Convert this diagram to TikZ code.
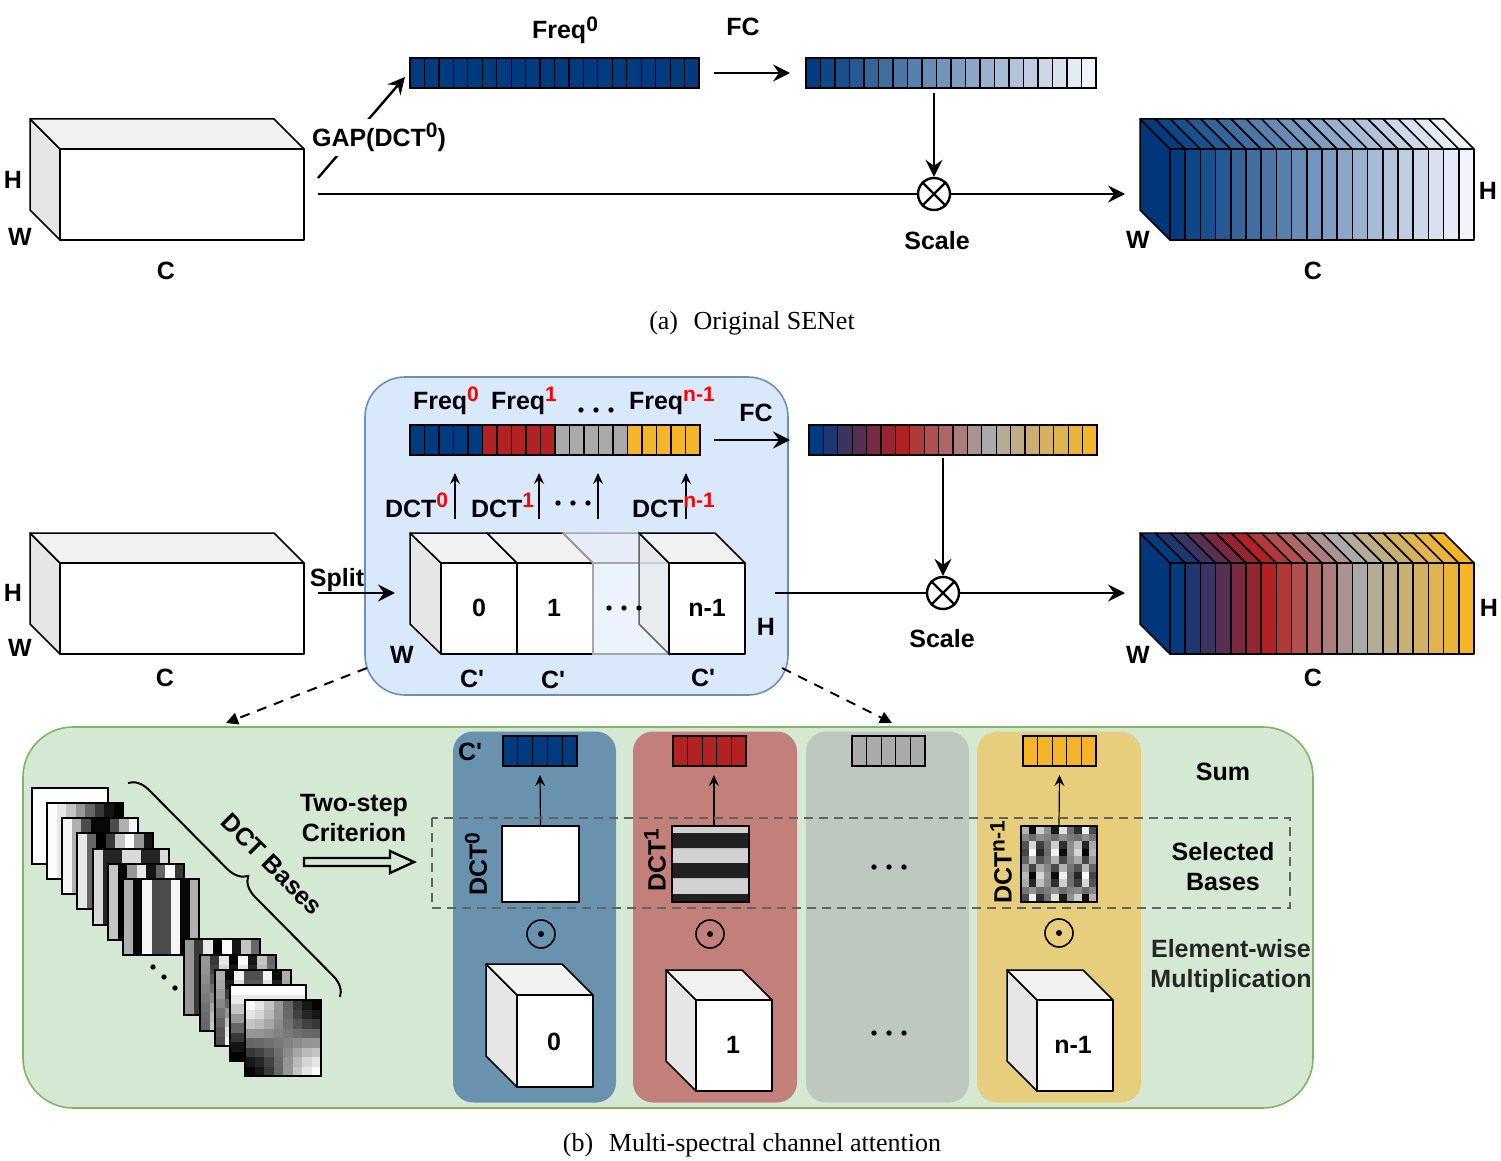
\documentclass[tikz,border=0pt]{standalone}
\usepackage{fontspec}
\setmainfont{Liberation Serif}
\newfontfamily\dsans{Liberation Sans}
\usetikzlibrary{arrows.meta,decorations.pathreplacing,calc}
\definecolor{dblue}{HTML}{003B80}
\definecolor{sideblue}{HTML}{00377A}
\definecolor{dred}{HTML}{B22222}
\definecolor{dgrey}{HTML}{AAAAAA}
\definecolor{dyell}{HTML}{F4B628}
\definecolor{lastA}{HTML}{F0F4FA}
\definecolor{topg}{HTML}{F2F2F2}
\definecolor{sideg}{HTML}{E6E6E6}
\definecolor{boxblue}{HTML}{DAE8FC}
\definecolor{boxblueline}{HTML}{6C8EBF}
\definecolor{boxgreen}{HTML}{D5E8D4}
\definecolor{boxgreenline}{HTML}{82B366}
\definecolor{colblue}{HTML}{6892AE}
\definecolor{colred}{HTML}{C3807A}
\definecolor{colgrey}{HTML}{BEC8BE}
\definecolor{colyell}{HTML}{E6CE7C}
\definecolor{dashgrey}{HTML}{5F665F}
\definecolor{gb0}{HTML}{003B80}
\definecolor{gb1}{HTML}{1E3770}
\definecolor{gb2}{HTML}{3B3361}
\definecolor{gb3}{HTML}{592F51}
\definecolor{gb4}{HTML}{772A41}
\definecolor{gb5}{HTML}{942632}
\definecolor{gb6}{HTML}{B22222}
\definecolor{gb7}{HTML}{B13939}
\definecolor{gb8}{HTML}{AF4F4F}
\definecolor{gb9}{HTML}{AE6666}
\definecolor{gb10}{HTML}{AD7D7D}
\definecolor{gb11}{HTML}{AB9393}
\definecolor{gb12}{HTML}{AAAAAA}
\definecolor{gb13}{HTML}{B5AC97}
\definecolor{gb14}{HTML}{BFAD85}
\definecolor{gb15}{HTML}{CAAF72}
\definecolor{gb16}{HTML}{D4B160}
\definecolor{gb17}{HTML}{DFB34D}
\definecolor{gb18}{HTML}{E9B43B}
\definecolor{gb19}{HTML}{F4B628}
\newcommand\mysp[2][3.6pt]{\raisebox{#1}{\fontsize{10.5}{10}\selectfont #2}}
\newcommand\rsp[2][3.6pt]{\mysp[#1]{\color{red}#2}}
\newcommand\mycube[5]{% x y w h d
  \filldraw[cubeln,fill=sideg] ({#1-#5},{#2-#5}) -- (#1,#2) -- (#1,{#2+#4}) -- ({#1-#5},{#2+#4-#5}) -- cycle;
  \filldraw[cubeln,fill=topg] ({#1-#5},{#2-#5}) -- ({#1+#3-#5},{#2-#5}) -- ({#1+#3},#2) -- (#1,#2) -- cycle;
  \filldraw[cubeln,fill=white] (#1,#2) rectangle ({#1+#3},{#2+#4});
}
\newcommand\dctsq[6]{% x y u v N size
  \pgfmathsetmacro\dcs{#6/#5}%
  \pgfmathtruncatemacro\dnm{#5-1}%
  \foreach \ci in {0,...,\dnm}{\foreach \cj in {0,...,\dnm}{%
    \pgfmathtruncatemacro\dgp{max(0,min(100,50+50*cos((2*\ci+1)*#3*90/#5)*cos((2*\cj+1)*#4*90/#5)))}%
    \fill[white!\dgp!black] ({#1+\ci*\dcs},{#2+\cj*\dcs}) rectangle ({#1+(\ci+1)*\dcs+0.4},{#2+(\cj+1)*\dcs+0.4});
  }}%
  \draw[line width=0.8pt] (#1,#2) rectangle ({#1+#6},{#2+#6});
}
\newcommand\tdots[3]{\fill (#1,#2) circle[radius=2.7] ({#1+#3},#2) circle[radius=2.7] ({#1+2*#3},#2) circle[radius=2.7];}
\begin{document}
\begin{tikzpicture}[x=0.5pt,y=-0.5pt,
  lbl/.style={font=\dsans\bfseries\fontsize{12.5}{15}\selectfont, inner sep=0pt, outer sep=0pt},
  captxt/.style={font=\fontsize{13}{15}\selectfont, inner sep=0pt},
  cubeln/.style={draw=black, line width=0.75pt, line join=round},
  cellln/.style={draw=black, line width=0.6pt},
  arr/.style={line width=1.2pt, -{Stealth[length=8.5pt,width=8.5pt,inset=3pt]}},
  sarr/.style={line width=0.6pt, -{Stealth[length=5.5pt,width=5pt,inset=2pt]}},
  darr/.style={line width=1pt, dash pattern=on 5pt off 4pt, -{Triangle[length=6pt,width=6pt]}},
  mainln/.style={line width=1.2pt},
  hole/.style={draw=none, inner sep=0pt, outer sep=0pt, minimum height=15pt},
  otim/.style={draw, circle, line width=1.2pt, minimum size=16pt, inner sep=0pt},
  odot/.style={draw, circle, line width=0.8pt, minimum size=14pt, inner sep=0pt},
]
\useasboundingbox (0,0) rectangle (1501,1161);
%%%%%%%%%%%%%%%% (a)
\mycube{60}{149}{244}{91}{30}
\node[lbl] (aH) at (13,180) {H};
\node[lbl] (aW) at (20,237) {W};
\node[lbl] (aC) at (166,271) {C};
\coordinate (aout) at (318,194);
\coordinate (agap) at (318,178);
\coordinate (gapend) at (405,77);
\node[hole, minimum width=144.5pt] (fA) at (554.5,73) {};
\foreach \i in {0,...,19} \filldraw[cellln,fill=dblue] ({410+\i*14.45},58) rectangle ++(14.45,30);
\node[lbl, anchor=base] (fAl) at (565,39) {Freq\mysp{0}};
\node[hole, minimum width=145pt] (gA) at (951,73) {};
\foreach \i in {0,...,19}{\pgfmathtruncatemacro\mixp{100-\i*100/19}
  \filldraw[cellln,fill=dblue!\mixp!lastA] ({806+\i*14.5},58) rectangle ++(14.5,30);}
\draw[arr] (agap) -- (gapend);
\node[lbl, anchor=base, fill=white, inner sep=2pt] (gapl) at (379,147) {GAP(DCT\mysp[4.5pt]{0})};
\draw[arr] ($(fA.east)+(15,0)$) -- ($(gA.west)+(-16,0)$);
\node[lbl, anchor=base] (fcA) at (743,36) {FC};
\node[otim] (otA) at (934,194) {};
\draw[line width=1.2pt] (otA.north west) -- (otA.south east) (otA.north east) -- (otA.south west);
\draw[arr] ([yshift=-2.5pt]otA |- gA.south) -- (otA.north);
\draw[mainln] (aout) -- (otA.west);
\coordinate (aend) at (1125,194);
\draw[arr] (otA.east) -- (aend);
\node[lbl] (scA) at (937,241) {Scale};
% right cube (a)
\filldraw[cubeln, fill=sideblue] (1140,119) -- (1170,149) -- (1170,240) -- (1140,210) -- cycle;
\foreach \i in {0,...,19}{\pgfmathtruncatemacro\mixp{100-\i*100/19}
  \pgfmathsetmacro\xa{1170+\i*15.2}\pgfmathsetmacro\xb{\xa+15.2}
  \filldraw[cubeln,fill=dblue!\mixp!lastA] (\xa-30,119) -- (\xb-30,119) -- (\xb,149) -- (\xa,149) -- cycle;
  \filldraw[cubeln,fill=dblue!\mixp!lastA] (\xa,149) rectangle (\xb,240);}
\node[lbl] (aW2) at (1138,240) {W};
\node[lbl] (aH2) at (1488,191) {H};
\node[lbl] (aC2) at (1313,271) {C};
\node[captxt] (capA) at (752,323) {(a)\hspace{0.6em}Original SENet};
%%%%%%%%%%%%%%%% (b)
\mycube{60}{563}{244}{91}{30}
\node[lbl] (bH) at (13,593) {H};
\node[lbl] (bW) at (20,648) {W};
\node[lbl] (bC) at (165,678) {C};
\node[draw=boxblueline, fill=boxblue, line width=0.8pt, rounded corners=20pt, minimum width=211.5pt, minimum height=159pt, inner sep=0pt] (mbox) at (576.5,536) {};
\coordinate (bsplit) at (318,593);
\coordinate (bsplitend) at (395,593);
\draw[arr] (bsplit) -- (bsplitend);
\node[lbl, anchor=base] (splitl) at (337,586) {Split};
% middle bar
\node[hole, minimum width=145pt] (fB) at (555,440) {};
\foreach \i in {0,...,4}{
  \filldraw[cellln,fill=dblue] ({410+\i*14.5},425) rectangle ++(14.5,30);
  \filldraw[cellln,fill=dred] ({482.5+\i*14.5},425) rectangle ++(14.5,30);
  \filldraw[cellln,fill=dgrey] ({555+\i*14.5},425) rectangle ++(14.5,30);
  \filldraw[cellln,fill=dyell] ({627.5+\i*14.5},425) rectangle ++(14.5,30);}
\node[lbl, anchor=base west] (fq0) at (413,409) {Freq\rsp{0}};
\node[lbl, anchor=base west] (fq1) at (491,409) {Freq\rsp{1}};
\node[lbl, anchor=base west] (fqn) at (629,409) {Freq\rsp{n-1}};
\tdots{581}{410}{15}
\node[hole, minimum width=144pt] (gB) at (953,440) {};
\foreach \i in {0,...,19} \filldraw[cellln,fill=gb\i] ({809+\i*14.4},425) rectangle ++(14.4,30);
\draw[arr] ($(fB.east)+(14,0)$) -- ($(gB.west)+(-19,0)$);
\node[lbl, anchor=base] (fcB) at (756,421) {FC};
% DCT labels and small arrows
\foreach \xx in {455,539,598,686} \draw[sarr] (\xx,519) -- (\xx,473);
\node[lbl, anchor=base west] (d0) at (385,517) {DCT\rsp[5pt]{0}};
\node[lbl, anchor=base west] (d1) at (471,517) {DCT\rsp[5pt]{1}};
\node[lbl, anchor=base west] (dn) at (632,517) {DCT\rsp[5pt]{n-1}};
\tdots{558}{503}{15}
% split cubes
\filldraw[cubeln,fill=sideg] (410,533) -- (441,563) -- (441,654) -- (410,624) -- cycle;
\filldraw[cubeln,fill=topg] (410,533) -- (487,533) -- (517,563) -- (441,563) -- cycle;
\filldraw[cubeln,fill=topg] (487,533) -- (563,533) -- (593,563) -- (517,563) -- cycle;
\filldraw[cubeln,fill=white] (441,563) rectangle (517,654);
\filldraw[cubeln,fill=white] (517,563) rectangle (593,654);
\filldraw[draw=black!35, line width=0.75pt, fill=topg, fill opacity=0.5] (563,533) -- (639,533) -- (669,563) -- (593,563) -- cycle;
\filldraw[draw=black!35, line width=0.75pt, fill=white, fill opacity=0.5] (593,563) rectangle (669,654);
\filldraw[draw=black!60, line width=0.75pt, fill=sideg, fill opacity=0.6] (639,533) -- (669,563) -- (669,654) -- (639,624) -- cycle;
\filldraw[cubeln,fill=topg] (639,533) -- (715,533) -- (745,563) -- (669,563) -- cycle;
\filldraw[cubeln,fill=white] (669,563) rectangle (745,654);
\node[lbl] (c0) at (479,608) {0};
\node[lbl] (c1) at (554,608) {1};
\node[lbl] (cn) at (707,608) {n-1};
\tdots{609}{608}{15}
\node[lbl] (mH) at (766,627) {H};
\node[lbl] (mW) at (402,655) {W};
\node[lbl] (mc0) at (472,679) {C\textquotesingle};
\node[lbl] (mc1) at (553,680) {C\textquotesingle};
\node[lbl] (mcn) at (703,678) {C\textquotesingle};
% scale (b)
\node[otim] (otB) at (943,593) {};
\draw[line width=1.2pt] (otB.north west) -- (otB.south east) (otB.north east) -- (otB.south west);
\draw[arr] ([yshift=-1.5pt]otB |- gB.south) -- (otB.north);
\coordinate (bcub) at (775,593);
\draw[mainln] (bcub) -- (otB.west);
\coordinate (bend) at (1125,593);
\draw[arr] (otB.east) -- (bend);
\node[lbl] (scB) at (942,639) {Scale};
% right cube (b)
\filldraw[cubeln, fill=sideblue] (1140,533) -- (1170,563) -- (1170,654) -- (1140,624) -- cycle;
\foreach \i in {0,...,19}{
  \pgfmathsetmacro\xa{1170+\i*15.2}\pgfmathsetmacro\xb{\xa+15.2}
  \filldraw[cubeln,fill=gb\i] (\xa-30,533) -- (\xb-30,533) -- (\xb,563) -- (\xa,563) -- cycle;
  \filldraw[cubeln,fill=gb\i] (\xa,563) rectangle (\xb,654);}
\node[lbl] (bW2) at (1138,655) {W};
\node[lbl] (bH2) at (1489,608) {H};
\node[lbl] (bC2) at (1313,678) {C};
%%%%%%%%%%%%%%%% bottom panel
\node[draw=boxgreenline, fill=boxgreen, line width=0.8pt, rounded corners=25pt, minimum width=645pt, minimum height=190.5pt, inner sep=0pt] (gpan) at (668,917.5) {};
\coordinate (dA) at (367,668);
\coordinate (dAe) at (226,723);
\coordinate (dB) at (782,668);
\coordinate (dBe) at (892,723);
\draw[darr] (dA) -- (dAe);
\draw[darr] (dB) -- (dBe);
% DCT bases stack
\dctsq{32}{788}{0}{0}{8}{76}
\dctsq{47}{803}{1}{0}{8}{76}
\dctsq{62}{818}{2}{0}{8}{76}
\dctsq{77}{833}{3}{0}{8}{76}
\dctsq{93}{849}{4}{0}{8}{76}
\dctsq{108}{864}{5}{0}{8}{76}
\dctsq{123}{879}{6}{0}{8}{76}
\dctsq{184}{939}{7}{0}{8}{76}
\dctsq{200}{955}{7}{1}{8}{76}
\dctsq{215}{970}{6}{1}{8}{76}
\dctsq{230}{985}{0}{1}{8}{76}
\dctsq{245}{1000}{1}{1}{8}{76}
\fill (153,967) circle[radius=2.7] (164,977) circle[radius=2.7] (175,988) circle[radius=2.7];
\draw[line width=1pt, decorate, decoration={brace, amplitude=10pt}] (128,783) -- (340,997);
\node[lbl, rotate=-45] (dctb) at (272,864) {DCT Bases};
\node[lbl, align=center] (twostep) at (354,818) {Two-step\\Criterion};
\draw[line width=1.2pt, fill=boxgreen, line join=miter] (304,858) -- (390,858) -- (390,851) -- (414,862) -- (390,873) -- (390,866) -- (304,866) -- cycle;
% columns
\node[fill=colblue, rounded corners=10pt, minimum width=81.5pt, minimum height=185.5pt, inner sep=0pt] (colB) at (534.5,917) {};
\node[fill=colred, rounded corners=10pt, minimum width=82pt, minimum height=185.5pt, inner sep=0pt] (colR) at (715,917) {};
\node[fill=colgrey, rounded corners=10pt, minimum width=81.5pt, minimum height=185.5pt, inner sep=0pt] (colG) at (887.5,917) {};
\node[fill=colyell, rounded corners=10pt, minimum width=82pt, minimum height=185.5pt, inner sep=0pt] (colY) at (1059,917) {};
% small bars
\node[hole, minimum width=37pt] (sb0) at (540,751) {};
\node[hole, minimum width=36.5pt] (sb1) at (709.5,751) {};
\node[hole, minimum width=36.5pt] (sb2) at (888.5,751) {};
\node[hole, minimum width=36.5pt] (sb3) at (1059.5,751) {};
\foreach \i in {0,...,4}{
  \filldraw[cellln,fill=dblue] ({503+\i*14.8},736) rectangle ++(14.8,30);
  \filldraw[cellln,fill=dred] ({673+\i*14.6},736) rectangle ++(14.6,30);
  \filldraw[cellln,fill=dgrey] ({852+\i*14.6},736) rectangle ++(14.6,30);
  \filldraw[cellln,fill=dyell] ({1023+\i*14.6},736) rectangle ++(14.6,30);}
\node[lbl] (cpr) at (470,752) {C\textquotesingle};
% selected bases
\node[draw, line width=0.8pt, fill=white, minimum width=38.5pt, minimum height=38pt, inner sep=0pt] (s0) at (540.5,864) {};
\fill[black!18] (672,826) rectangle (749,902);
\fill[black!87] (672,833) rectangle (749,848) (672,863) rectangle (749,878) (672,894) rectangle (749,902);
\node[draw, line width=0.8pt, minimum width=38.5pt, minimum height=38pt, inner sep=0pt] (s1) at (710.5,864) {};
\dctsq{1021}{826}{7}{3}{10}{76}
\node[hole, minimum width=38pt, minimum height=38pt] (s3) at (1059,864) {};
\draw[sarr] (s0.north) -- ([yshift=-4.5pt]sb0.south);
\draw[sarr] ([xshift=1.7pt]s1.north) -- ([xshift=2.2pt,yshift=-4.5pt]sb1.south);
\draw[sarr] (s3.north) -- ([yshift=-4.5pt]sb3.south);
\node[lbl, rotate=90] (r0) at (476,864) {DCT\mysp{0}};
\node[lbl, rotate=90] (r1) at (655,860) {DCT\mysp{1}};
\node[lbl, rotate=90] (rn) at (1001,862) {DCT\mysp{n-1}};
\tdots{874}{867}{15}
\tdots{874}{1033}{15}
% odots
\node[odot] (o0) at (541,934) {};
\node[odot] (o1) at (710,934) {};
\node[odot] (o3) at (1059,933) {};
\fill (o0) circle[radius=3] (o1) circle[radius=3] (o3) circle[radius=3];
% cubes in columns
\mycube{517}{995}{76}{92}{31}
\mycube{696}{1000}{76}{91}{30}
\mycube{1037}{1000}{76}{91}{30}
\node[lbl] (k0) at (554,1042) {0};
\node[lbl] (k1) at (733,1045) {1};
\node[lbl] (kn) at (1073,1045) {n-1};
% dashed selection
\draw[draw=dashgrey, line width=1pt, dash pattern=on 4.5pt off 3pt] (432,818) rectangle (1290,908);
\node[lbl] (sum) at (1223,772) {Sum};
\node[lbl, align=center] (selb) at (1223,867) {Selected\\Bases};
\node[lbl, align=center, text=black!85] (elw) at (1231,966) {Element-wise\\Multiplication};
\node[captxt] (capB) at (752,1145) {(b)\hspace{0.6em}Multi-spectral channel attention};
\end{tikzpicture}
\end{document}
